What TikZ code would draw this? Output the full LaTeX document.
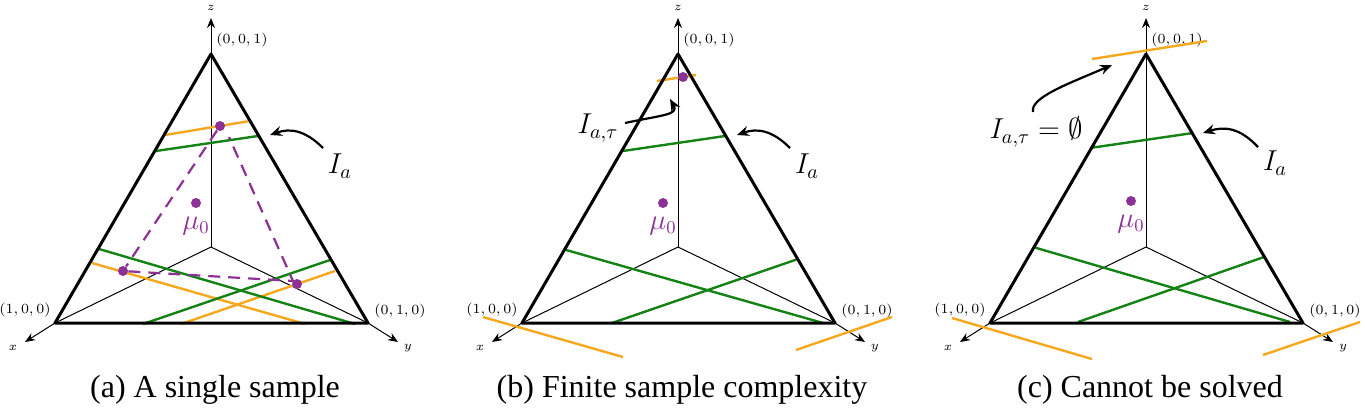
\documentclass[tikz,border=0pt]{standalone}
\usepackage{fontspec}
\setmainfont{Liberation Serif}
\usetikzlibrary{arrows.meta}
\definecolor{myorange}{RGB}{245,168,30}
\definecolor{mygreen}{RGB}{20,130,20}
\definecolor{mypurple}{RGB}{140,50,150}
\tikzset{
  tri/.style={line width=1.5pt, line join=round},
  axis/.style={line width=0.5pt,-{Stealth[length=5pt,width=4pt]}},
  thinline/.style={line width=0.5pt},
  oline/.style={myorange,line width=1.2pt},
  gline/.style={mygreen,line width=1.2pt},
  pdot/.style={circle,fill=mypurple,inner sep=0pt,minimum size=5pt},
  vlab/.style={font=\fontsize{7.5}{8}\selectfont,inner sep=1pt},
  alab/.style={font=\fontsize{6}{7}\selectfont,inner sep=1pt},
  big/.style={font=\fontsize{14.5}{16}\selectfont,inner sep=1pt},
  mulab/.style={font=\fontsize{13.5}{15}\selectfont,text=mypurple,inner sep=1pt},
  captxt/.style={font=\fontsize{16}{18}\selectfont,inner sep=0pt},
  ann/.style={line width=1.1pt,-{Stealth[length=6pt,width=5pt]}}
}
\begin{document}
\begin{tikzpicture}[x=0.5pt,y=-0.5pt]
\useasboundingbox (0,0) rectangle (1365,413);
\foreach \p/\s/\c in {a/0/{(a) A single sample},b/467/{(b) Finite sample complexity},c/935/{(c) Cannot be solved}}{
\begin{scope}[shift={(\s,0)}]
  \coordinate (\p T) at (211,54);
  \coordinate (\p L) at (55,323);
  \coordinate (\p R) at (368,323);
  \coordinate (\p O) at (211,247);
  \coordinate (\p Z) at (211,18);
  \coordinate (\p X) at (25,342);
  \coordinate (\p Y) at (398,342);
  \draw[thinline] (\p O) -- (\p L);
  \draw[thinline] (\p O) -- (\p R);
  \draw[axis] (\p O) -- (\p Z);
  \draw[axis] (\p L) -- (\p X);
  \draw[axis] (\p R) -- (\p Y);
  \node[alab] (\p zl) at (211,8) {$z$};
  \node[alab] (\p xl) at (13,348) {$x$};
  \node[alab] (\p yl) at (408,348) {$y$};
  \node[vlab] (\p v1) at (242,40) {$(0,0,1)$};
  \node[vlab] (\p v2) at (25,310) {$(1,0,0)$};
  \node[vlab] (\p v3) at (400,311) {$(0,1,0)$};
  \node[captxt] (\p cap) at (215,390) {\c};
\end{scope}}
% ---------- panel a ----------
\draw[oline] (165,135) -- (250,121);
\draw[oline] (92,263) -- (305,324);
\draw[oline] (181,324) -- (335,271);
\draw[gline] (156,151) -- (258,136);
\draw[gline] (99,249) -- (355,324);
\draw[gline] (143,324) -- (330,260);
\draw[tri] (aT) -- (aL) -- (aR) -- cycle;
\node[pdot] (ap1) at (220,126) {};
\node[pdot] (ap2) at (123,271) {};
\node[pdot] (ap3) at (297,284) {};
\draw[mypurple,line width=1.1pt,dash pattern=on 6pt off 4pt] (ap1) -- (ap2) -- (293,281) -- (229,137);
\node[pdot] (amu) at (196,203) {};
\node[mulab] (amul) at (196,226) {$\mu_0$};
\node[big] (aIa) at (340,166) {$I_a$};
\coordinate (aIaS) at (323,148);
\coordinate (aIaE) at (270,135);
\draw[ann] (aIaS) .. controls (305,130) and (290,128) .. (aIaE);
% ---------- panel b ----------
\begin{scope}[shift={(467,0)}]
\draw[oline] (190,81) -- (229,75);
\draw[gline] (156,151) -- (258,136);
\draw[gline] (99,250) -- (356,323);
\draw[gline] (145,323) -- (331,259);
\draw[oline] (16,317) -- (156,357);
\draw[oline] (329,350) -- (425,317);
\draw[tri] (bT) -- (bL) -- (bR) -- cycle;
\node[pdot] (bp1) at (216,77) {};
\node[pdot] (bmu) at (196,203) {};
\node[mulab] (bmul) at (196,226) {$\mu_0$};
\node[big] (bIt) at (131,128) {$I_{a,\tau}$};
\coordinate (bItS) at (158,123);
\coordinate (bItE) at (203,99);
\draw[ann] (bItS) .. controls (195,115) and (212,115) .. (bItE);
\node[big] (bIa) at (340,166) {$I_a$};
\coordinate (bIaS) at (323,148);
\coordinate (bIaE) at (270,135);
\draw[ann] (bIaS) .. controls (305,130) and (290,128) .. (bIaE);
\end{scope}
% ---------- panel c ----------
\begin{scope}[shift={(935,0)}]
\draw[oline] (157,59) -- (272,41);
\draw[gline] (155,148) -- (258,133);
\draw[gline] (98,247) -- (355,322);
\draw[gline] (143,322) -- (329,257);
\draw[oline] (17,318) -- (157,359);
\draw[oline] (328,355) -- (425,322);
\draw[tri] (cT) -- (cL) -- (cR) -- cycle;
\node[pdot] (cmu) at (196,201) {};
\node[mulab] (cmul) at (196,224) {$\mu_0$};
\node[big] (cIt) at (101,132) {$I_{a,\tau}=\emptyset$};
\coordinate (cItS) at (98,112);
\coordinate (cItE) at (177,65);
\draw[ann] (cItS) .. controls (95,98) and (130,85) .. (cItE);
\node[big] (cIa) at (340,163) {$I_a$};
\coordinate (cIaS) at (323,147);
\coordinate (cIaE) at (268,133);
\draw[ann] (cIaS) .. controls (305,128) and (290,126) .. (cIaE);
\end{scope}
\end{tikzpicture}
\end{document}
